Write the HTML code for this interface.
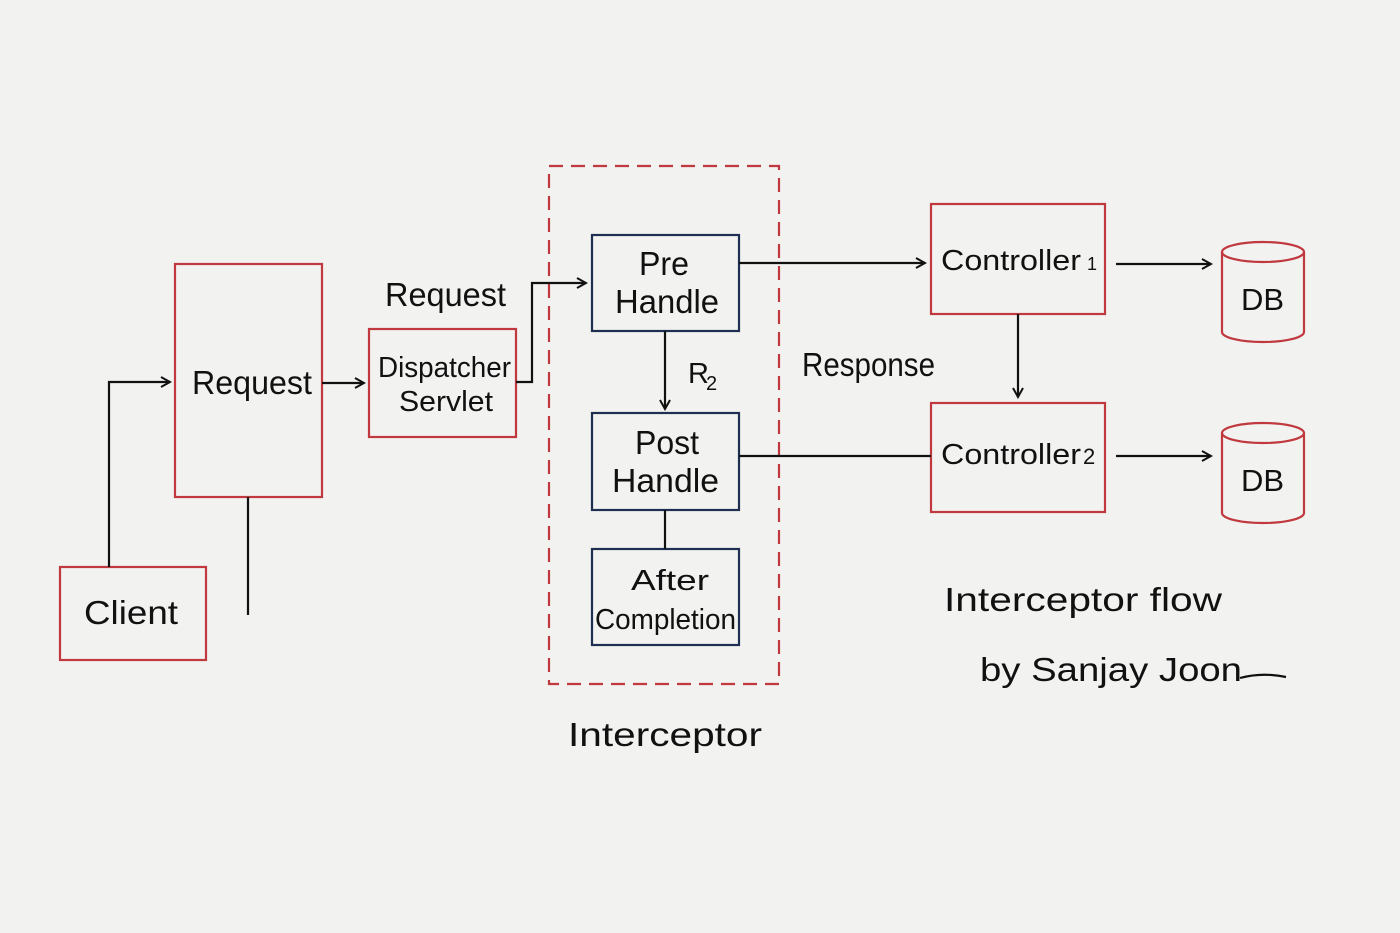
<!DOCTYPE html>
<html><head><meta charset="utf-8"><style>
html,body{margin:0;padding:0;background:#f2f2f1;}
svg{display:block}
text{font-family:"Liberation Sans",sans-serif;fill:#111;}
</style></head><body>
<svg width="1400" height="933" viewBox="0 0 1400 933" xmlns="http://www.w3.org/2000/svg">
<defs><marker id="a" markerWidth="12" markerHeight="12" refX="10" refY="6" orient="auto" markerUnits="userSpaceOnUse"><path d="M1,1 L10,6 L1,11" fill="none" stroke="#111" stroke-width="2"/></marker></defs>
<rect width="1400" height="933" fill="#f2f2f1"/>
<g fill="none" stroke="#c0393f" stroke-width="2.2">
<rect x="60" y="567" width="146" height="93"/>
<rect x="175" y="264" width="147" height="233"/>
<rect x="369" y="329" width="147" height="108"/>
<rect x="931" y="204" width="174" height="110"/>
<rect x="931" y="403" width="174" height="109"/>
<rect x="549" y="166" width="230" height="518" stroke-dasharray="14,8"/>
<path d="M1222,252 v80 a41,10 0 0 0 82,0 v-80"/><ellipse cx="1263" cy="252" rx="41" ry="10"/>
<path d="M1222,433 v80 a41,10 0 0 0 82,0 v-80"/><ellipse cx="1263" cy="433" rx="41" ry="10"/>
</g>
<g fill="none" stroke="#1e2f52" stroke-width="2.2">
<rect x="592" y="235" width="147" height="96"/>
<rect x="592" y="413" width="147" height="97"/>
<rect x="592" y="549" width="147" height="96"/>
</g>
<g fill="none" stroke="#111" stroke-width="2.2">
<path d="M109,567 V382 H170" marker-end="url(#a)"/>
<path d="M248,497 V615"/>
<path d="M322,383 H364" marker-end="url(#a)"/>
<path d="M516,382 H532 V283 H586" marker-end="url(#a)"/>
<path d="M739,263 H925" marker-end="url(#a)"/>
<path d="M665,331 V409" marker-end="url(#a)"/>
<path d="M739,456 H931"/>
<path d="M665,510 V549"/>
<path d="M1018,314 V397" marker-end="url(#a)"/>
<path d="M1116,264 H1211" marker-end="url(#a)"/>
<path d="M1116,456 H1211" marker-end="url(#a)"/>
<path d="M1240,678 Q1262,672 1286,677"/>
</g>
<g font-size="33">
<text x="84" y="624" textLength="94" lengthAdjust="spacingAndGlyphs">Client</text>
<text x="192" y="394" textLength="120" lengthAdjust="spacingAndGlyphs">Request</text>
<text x="385" y="306" textLength="121" lengthAdjust="spacingAndGlyphs">Request</text>
<text x="639" y="275" textLength="50" lengthAdjust="spacingAndGlyphs">Pre</text>
<text x="615" y="313" textLength="104" lengthAdjust="spacingAndGlyphs">Handle</text>
<text x="635" y="454" textLength="64" lengthAdjust="spacingAndGlyphs">Post</text>
<text x="612" y="492" textLength="107" lengthAdjust="spacingAndGlyphs">Handle</text>
<text x="568" y="746" textLength="194" lengthAdjust="spacingAndGlyphs">Interceptor</text>
<text x="802" y="376" textLength="133" lengthAdjust="spacingAndGlyphs">Response</text>
<text x="944" y="611" textLength="278" lengthAdjust="spacingAndGlyphs">Interceptor flow</text>
<text x="980" y="681" textLength="262" lengthAdjust="spacingAndGlyphs">by Sanjay Joon</text>
<text x="1241" y="310" font-size="31">DB</text>
<text x="1241" y="491" font-size="31">DB</text>
</g>
<g font-size="29">
<text x="378" y="377" textLength="133" lengthAdjust="spacingAndGlyphs">Dispatcher</text>
<text x="399" y="411" textLength="94" lengthAdjust="spacingAndGlyphs">Servlet</text>
<text x="631" y="590" textLength="78" lengthAdjust="spacingAndGlyphs">After</text>
<text x="595" y="629" textLength="141" lengthAdjust="spacingAndGlyphs">Completion</text>
<text x="941" y="270" textLength="140" lengthAdjust="spacingAndGlyphs">Controller</text>
<text x="1087" y="270" font-size="18">1</text>
<text x="941" y="464" textLength="140" lengthAdjust="spacingAndGlyphs">Controller</text>
<text x="1083" y="464" font-size="22">2</text>
<text x="688" y="383">R</text>
<text x="706" y="390" font-size="20">2</text>
</g>
</svg>
</body></html>
